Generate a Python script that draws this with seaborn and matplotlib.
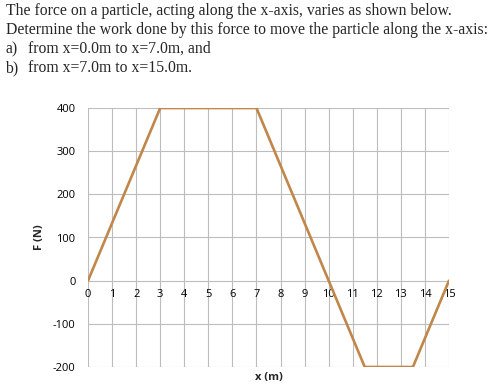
import matplotlib
matplotlib.use("Agg")
import matplotlib.pyplot as plt
import seaborn as sns
import pandas as pd

x_m = [0, 3, 7, 11.5, 13.5, 15]
force_n = [0, 400, 400, -200, -200, 0]
x_ticks = list(range(0, 16))
y_ticks = [-200, -100, 0, 100, 200, 300, 400]
question = [
    "The force on a particle, acting along the x-axis, varies as shown below.",
    "Determine the work done by this force to move the particle along the x-axis:",
    "a)", "from x=0.0m to x=7.0m, and",
    "b)", "from x=7.0m to x=15.0m.",
]

sns.set_theme(style="white")
plt.rcParams['font.family'] = ['Open Sans', 'DejaVu Sans']
plt.rcParams['axes.unicode_minus'] = False

fig = plt.figure(figsize=(4.96, 3.85), dpi=100)
ax = fig.add_axes([88/496, 18/385, (449-88)/496, (367-108)/385])

df = pd.DataFrame({"x": x_m, "F": force_n})
sns.lineplot(data=df, x="x", y="F", ax=ax, color="#C0864A", linewidth=1.9, sort=False)

ax.set_xlim(0, 15)
ax.set_ylim(-200, 400)
ax.set_xticks(x_ticks)
ax.set_yticks(y_ticks)
ax.grid(True, color="#BDBDBD", linewidth=0.8)
ax.set_axisbelow(True)
for s in ax.spines.values():
    s.set_visible(False)
ax.spines['bottom'].set_position(('data', 0))
ax.tick_params(axis='both', length=0, labelsize=8, colors="black")
ax.tick_params(axis='x', pad=6)
ax.tick_params(axis='y', pad=9)
ax.set_xlabel("")
ax.set_ylabel("")
ax.text(0.5, -0.042, "x (m)", transform=ax.transAxes, ha="center", va="center",
        fontsize=8, fontweight="bold")
ax.text(-0.133, 0.5, "F (N)", transform=ax.transAxes, ha="center", va="center",
        rotation=90, fontsize=8, fontweight="bold")

serif = ['Liberation Serif', 'DejaVu Serif']
fs = 11.3
fig.text(6/496, 1 - 11/385, question[0], family=serif, fontsize=fs, va="center", ha="left")
fig.text(6/496, 1 - 30/385, question[1], family=serif, fontsize=fs, va="center", ha="left")
fig.text(5/496, 1 - 49/385, question[2], family=serif, fontsize=fs, va="center", ha="left")
fig.text(28/496, 1 - 49/385, question[3], family=serif, fontsize=fs, va="center", ha="left")
fig.text(5/496, 1 - 68/385, question[4], family=serif, fontsize=fs, va="center", ha="left")
fig.text(28/496, 1 - 68/385, question[5], family=serif, fontsize=fs, va="center", ha="left")

fig.savefig("out.png", dpi=100, facecolor="white")
